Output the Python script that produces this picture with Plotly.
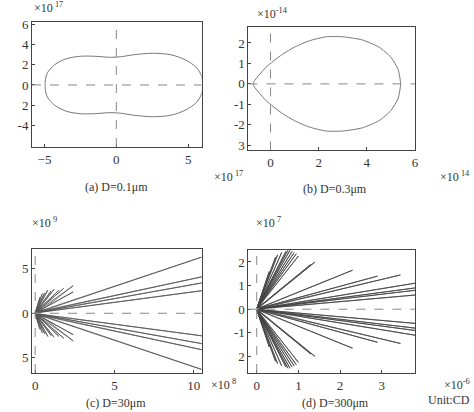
import numpy as np
import plotly.graph_objects as go
from plotly.subplots import make_subplots

# (a) peanut pattern, upper half outline (x1e17)
a_x = [6.0, 5.95, 5.6, 4.8, 3.8, 2.5, 1.2, 0.3, -0.5, -1.5, -2.5, -3.5, -4.3, -4.8, -4.95, -4.95]
a_y = [0.0, 0.8, 1.7, 2.5, 3.0, 3.15, 3.0, 2.8, 2.75, 2.85, 2.85, 2.6, 2.0, 1.2, 0.4, 0.0]
# (b) cardioid-like pattern, upper half outline (x1e14)
b_x = [5.4, 5.3, 5.0, 4.5, 3.8, 3.0, 2.3, 1.6, 1.0, 0.5, 0.1, -0.2, -0.5, -0.7, -0.72]
b_y = [0.0, 0.7, 1.3, 1.8, 2.15, 2.3, 2.3, 2.1, 1.8, 1.45, 1.1, 0.8, 0.4, 0.1, 0.0]
# (c) spike tips (x1e8, x1e9), upper half; mirrored for lower
c_tip_x = [10.5, 10.8, 10.8, 10.8, 2.4, 2.4, 1.8, 1.5, 1.2, 1.0, 0.8, 0.6, 0.45, 0.3, 0.2]
c_tip_y = [6.3, 4.2, 3.5, 2.6, 3.1, 2.4, 2.8, 2.6, 2.7, 2.5, 2.6, 2.3, 2.2, 1.8, 1.4]
# (d) spike tips (x1e-6, x1e7), upper half
d_tip_x = [3.8, 3.8, 3.8, 3.8, 3.45, 2.9, 2.3, 1.4, 1.3, 1.0, 0.95, 0.9, 0.85, 0.8, 0.75, 0.7, 0.6, 0.5, 0.45, 0.4, 0.3, 0.2, 0.1]
d_tip_y = [1.1, 0.9, 0.8, 0.6, 1.45, 1.4, 1.65, 2.0, 1.9, 2.25, 2.35, 2.4, 2.45, 2.5, 2.5, 2.45, 2.4, 2.3, 2.2, 2.0, 1.6, 1.1, 0.6]

def mirror(x, y):
    return list(x) + list(x[::-1]), list(y) + [-v for v in y[::-1]]

def spikes(tx, ty, sign):
    xs, ys = [0.0], [0.0]
    for x, y in zip(tx, ty):
        xs += [x, x*0.02]; ys += [sign*y, sign*y*0.03]
    return xs, ys

fig = make_subplots(rows=2, cols=2, horizontal_spacing=0.1, vertical_spacing=0.17)
col = "#777"
ax, ay = mirror(a_x, a_y)
fig.add_trace(go.Scatter(x=ax, y=ay, mode="lines", line=dict(color=col, width=1, shape="spline", smoothing=0.8)), 1, 1)
bx, by = mirror(b_x, b_y)
fig.add_trace(go.Scatter(x=bx, y=by, mode="lines", line=dict(color=col, width=1, shape="spline", smoothing=0.6)), 1, 2)
for s in (1, -1):
    x, y = spikes(c_tip_x, c_tip_y, s)
    fig.add_trace(go.Scatter(x=x, y=y, mode="lines", line=dict(color="#555", width=0.8)), 2, 1)
    x, y = spikes(d_tip_x, d_tip_y, s)
    fig.add_trace(go.Scatter(x=x, y=y, mode="lines", line=dict(color="#444", width=0.8)), 2, 2)

ranges = [([-5.87, 5.94], [-6.15, 6.25], [-5, 0, 5], [-4, -2, 0, 2, 4, 6], ["-4", "2", "0", "2", "4", "6"]),
          ([-0.92, 6], [-3.25, 2.8], [0, 2, 4, 6], [-3, -2, -1, 0, 1, 2], ["3", "-2", "-1", "0", "1", "2"]),
          ([-0.2, 10.5], [-6.7, 7.2], [0, 5, 10], [-5, 0, 5], ["5", "0", "5"]),
          ([-0.2, 3.8], [-2.7, 2.5], [0, 1, 2, 3], [-2, -1, 0, 1, 2], ["2", "-1", "0", "1", "2"])]
pos = [(1, 1), (1, 2), (2, 1), (2, 2)]
for i, ((xr, yr, xt, yt, ytt), (r, c)) in enumerate(zip(ranges, pos)):
    fig.update_xaxes(range=xr, tickvals=xt, ticks="inside", ticklen=3, showgrid=False, zeroline=False,
                     showline=True, mirror=True, linecolor="#444", row=r, col=c)
    fig.update_yaxes(range=yr, tickvals=yt, ticktext=ytt, ticks="inside", ticklen=3, showgrid=False,
                     zeroline=False, showline=True, mirror=True, linecolor="#444", row=r, col=c)
    xa = "x" if i == 0 else f"x{i+1}"
    ya = "y" if i == 0 else f"y{i+1}"
    fig.add_shape(type="line", xref=xa, yref=ya, x0=xr[0], x1=xr[1], y0=0, y1=0,
                  line=dict(color="#888", width=1, dash="dash"))
    fig.add_shape(type="line", xref=xa, yref=ya, x0=0, x1=0, y0=yr[0], y1=yr[1],
                  line=dict(color="#888", width=1, dash="dash"))

fig.update_layout(width=474, height=412, showlegend=False, plot_bgcolor="white", paper_bgcolor="white",
                  margin=dict(l=32, r=59, t=22, b=39),
                  font=dict(family="Liberation Serif", size=13, color="#333"))
fig.update_xaxes(domain=[0, 0.443], row=1, col=1); fig.update_xaxes(domain=[0, 0.443], row=2, col=1)
fig.update_xaxes(domain=[0.565, 1], row=1, col=2); fig.update_xaxes(domain=[0.565, 1], row=2, col=2)
fig.update_yaxes(domain=[0.644, 1], row=1, col=1); fig.update_yaxes(domain=[0.634, 0.987], row=1, col=2)
fig.update_yaxes(domain=[0, 0.353], row=2, col=1); fig.update_yaxes(domain=[0, 0.35], row=2, col=2)

ann = [(48, 8, "×10<sup> 17</sup>", "center"), (272, 14, "×10<sup>-14</sup>", "center"),
       (228, 176, "×10<sup> 17</sup>", "center"), (472, 176, "×10<sup> 14</sup>", "right"),
       (44, 222, "×10<sup> 9</sup>", "center"), (268, 222, "×10<sup> 7</sup>", "center"),
       (224, 384, "×10<sup> 8</sup>", "center"), (472, 384, "×10<sup>-6</sup>", "right"),
       (116, 187, "(a) D=0.1μm", "center"), (335, 189, "(b) D=0.3μm", "center"),
       (116, 403, "(c) D=30μm", "center"), (335, 403, "(d) D=300μm", "center"),
       (472, 400, "Unit:CD", "right")]
for x, y, t, xa in ann:
    fig.add_annotation(x=(x - 32) / 383, y=1 - (y - 22) / 351, xref="paper", yref="paper", text=t,
                       showarrow=False, xanchor=xa, yanchor="middle", font=dict(size=12))
fig.write_html("out.html", config={"displayModeBar": False})
with open("out.html", encoding="utf-8") as f:
    html = f.read()
html = html.replace("<body>", '<body style="margin:0">', 1)
with open("out.html", "w", encoding="utf-8") as f:
    f.write(html)
